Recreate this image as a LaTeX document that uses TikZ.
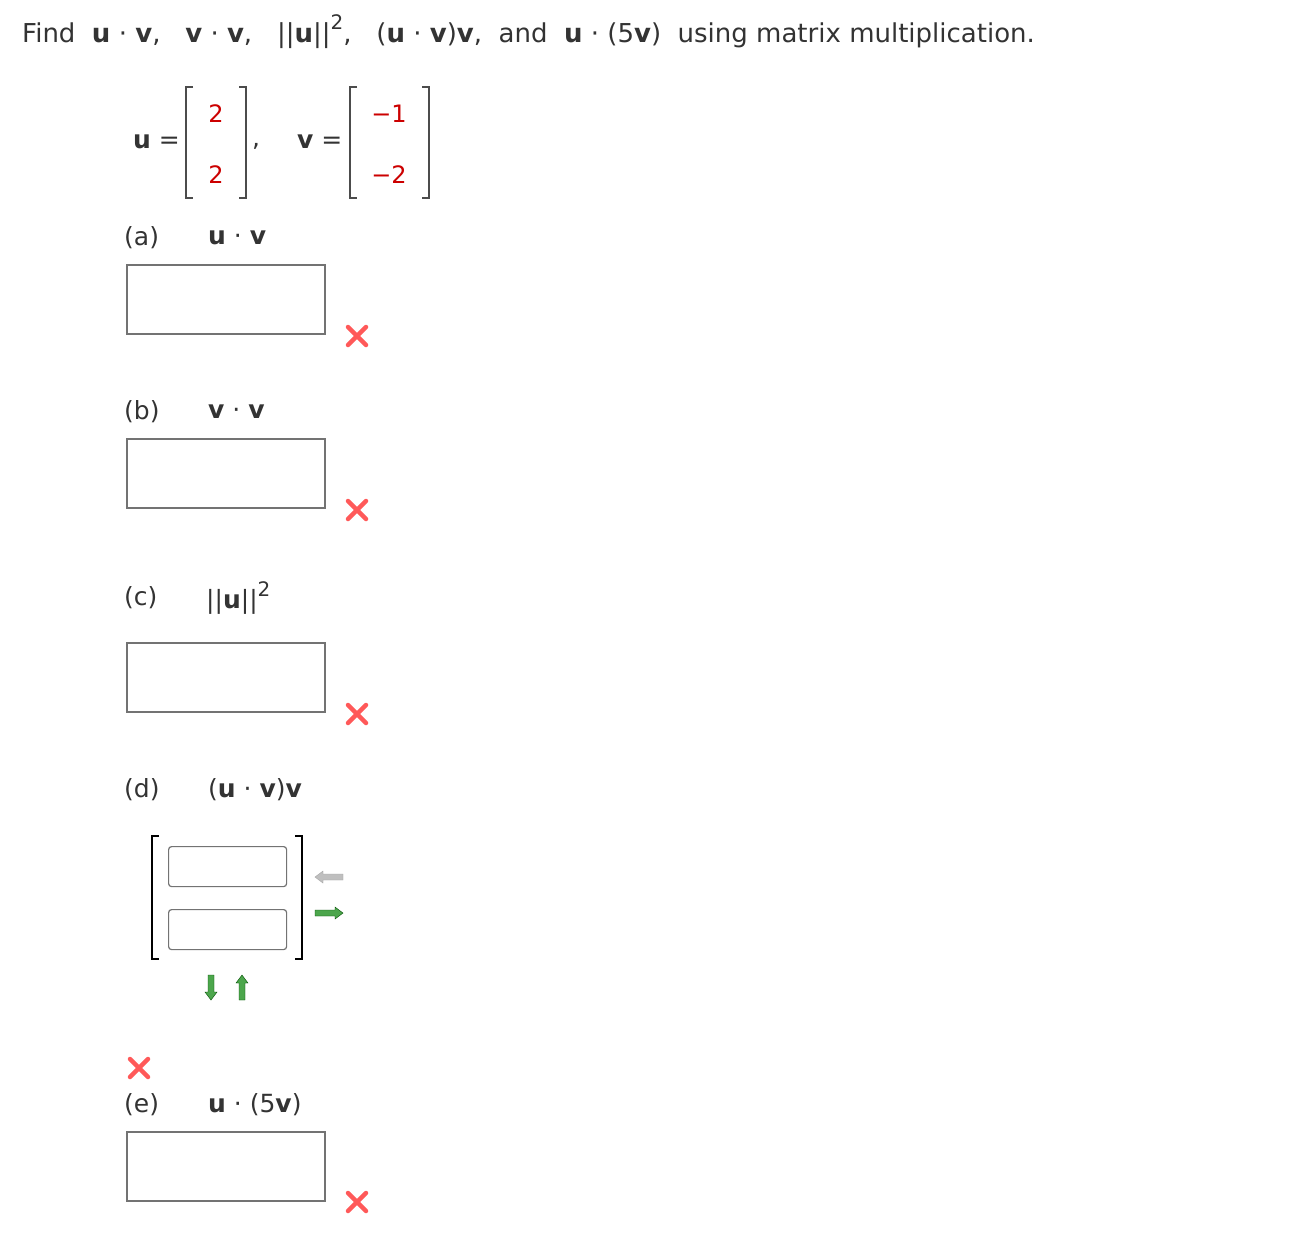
\documentclass[tikz,border=0pt]{standalone}
\usepackage{fontspec}
\setmainfont{DejaVu Sans}
\newcommand{\dt}{\ ·\ }
\newcommand{\sq}{\raisebox{0.5em}{\fontsize{20}{22}\selectfont 2}}
\begin{document}
\begin{tikzpicture}[x=1pt,y=-1pt,
  txt/.style={anchor=west,inner sep=0pt,font=\fontsize{25}{28}\selectfont,text=black!80},
  red/.style={anchor=center,inner sep=0pt,font=\fontsize{24}{26}\selectfont,text=red!80!black},
  ansbox/.style={draw=black!55,line width=1.5pt,minimum width=198pt,minimum height=69pt,inner sep=0pt},
  smallbox/.style={draw=black!55,line width=1.2pt,rounded corners=3pt,minimum width=118pt,minimum height=40pt,inner sep=0pt},
  brk/.style={line width=2pt,draw=black!70},
  xmark/.style={line width=4.5pt,draw=red!65,line cap=round}]
\useasboundingbox (0,0) rectangle (1312,1244);
\fill[white] (0,0) rectangle (1312,1244);
\node[txt,font=\fontsize{26}{28}\selectfont] (title) at (22,32) {Find\ \ \textbf{u}\dt\textbf{v},\ \ \ \textbf{v}\dt\textbf{v},\ \ \ ||\textbf{u}||\sq,\ \ \ (\textbf{u}\dt\textbf{v})\textbf{v},\ \ and\ \ \textbf{u}\dt(5\textbf{v})\ \ using matrix multiplication.};
% u matrix
\node[txt] (ueq) at (133,142) {\textbf{u} =};
\draw[brk] (193,87) -- (186,87) -- (186,198) -- (193,198);
\draw[brk] (239,87) -- (246,87) -- (246,198) -- (239,198);
\node[red] (u1) at (216,114) {2};
\node[red] (u2) at (216,175) {2};
\node[txt] (c1) at (252,146) {,};
\node[txt] (veq) at (297,142) {\textbf{v} =};
\draw[brk] (357,87) -- (350,87) -- (350,198) -- (357,198);
\draw[brk] (422,87) -- (429,87) -- (429,198) -- (422,198);
\node[red] (v1) at (389,114) {−1};
\node[red] (v2) at (389,175) {−2};
% parts
\node[txt] (la) at (124,238) {(a)};
\node[txt] (ea) at (208,238) {\textbf{u}\dt\textbf{v}};
\node[ansbox,anchor=north west] (ba) at (126,264) {};
\node[txt] (lb) at (124,412) {(b)};
\node[txt] (eb) at (208,412) {\textbf{v}\dt\textbf{v}};
\node[ansbox,anchor=north west] (bb) at (126,438) {};
\node[txt] (lc) at (124,598) {(c)};
\node[txt] (ec) at (206,598) {||\textbf{u}||\sq};
\node[ansbox,anchor=north west] (bc) at (126,642) {};
\node[txt] (ld) at (124,790) {(d)};
\node[txt] (ed) at (208,790) {(\textbf{u}\dt\textbf{v})\textbf{v}};
\draw[brk,draw=black] (159,836) -- (152,836) -- (152,959) -- (159,959);
\draw[brk,draw=black] (295,836) -- (302,836) -- (302,959) -- (295,959);
\node[smallbox,anchor=north west] (d1) at (168,846) {};
\node[smallbox,anchor=north west] (d2) at (168,909) {};
\node[txt] (le) at (124,1105) {(e)};
\node[txt] (ee) at (208,1105) {\textbf{u}\dt(5\textbf{v})};
\node[ansbox,anchor=north west] (be) at (126,1131) {};
% crosses
\foreach \cx/\cy in {357/336,357/510,357/714,139/1068,357/1202}{
  \draw[xmark] (\cx-9,\cy-9) -- (\cx+9,\cy+9) (\cx-9,\cy+9) -- (\cx+9,\cy-9);
}
% arrows
\fill[black!25,draw=black!35] (315,877) -- (323,871) -- (323,874) -- (343,874) -- (343,880) -- (323,880) -- (323,883) -- cycle;
\fill[green!50!black!70,draw=green!30!black] (343,913) -- (335,907) -- (335,910) -- (315,910) -- (315,916) -- (335,916) -- (335,919) -- cycle;
\fill[green!50!black!70,draw=green!30!black] (211,1000) -- (205,992) -- (208,992) -- (208,975) -- (214,975) -- (214,992) -- (217,992) -- cycle;
\fill[green!50!black!70,draw=green!30!black] (242,975) -- (236,983) -- (239,983) -- (239,1000) -- (245,1000) -- (245,983) -- (248,983) -- cycle;
\end{tikzpicture}
\end{document}
